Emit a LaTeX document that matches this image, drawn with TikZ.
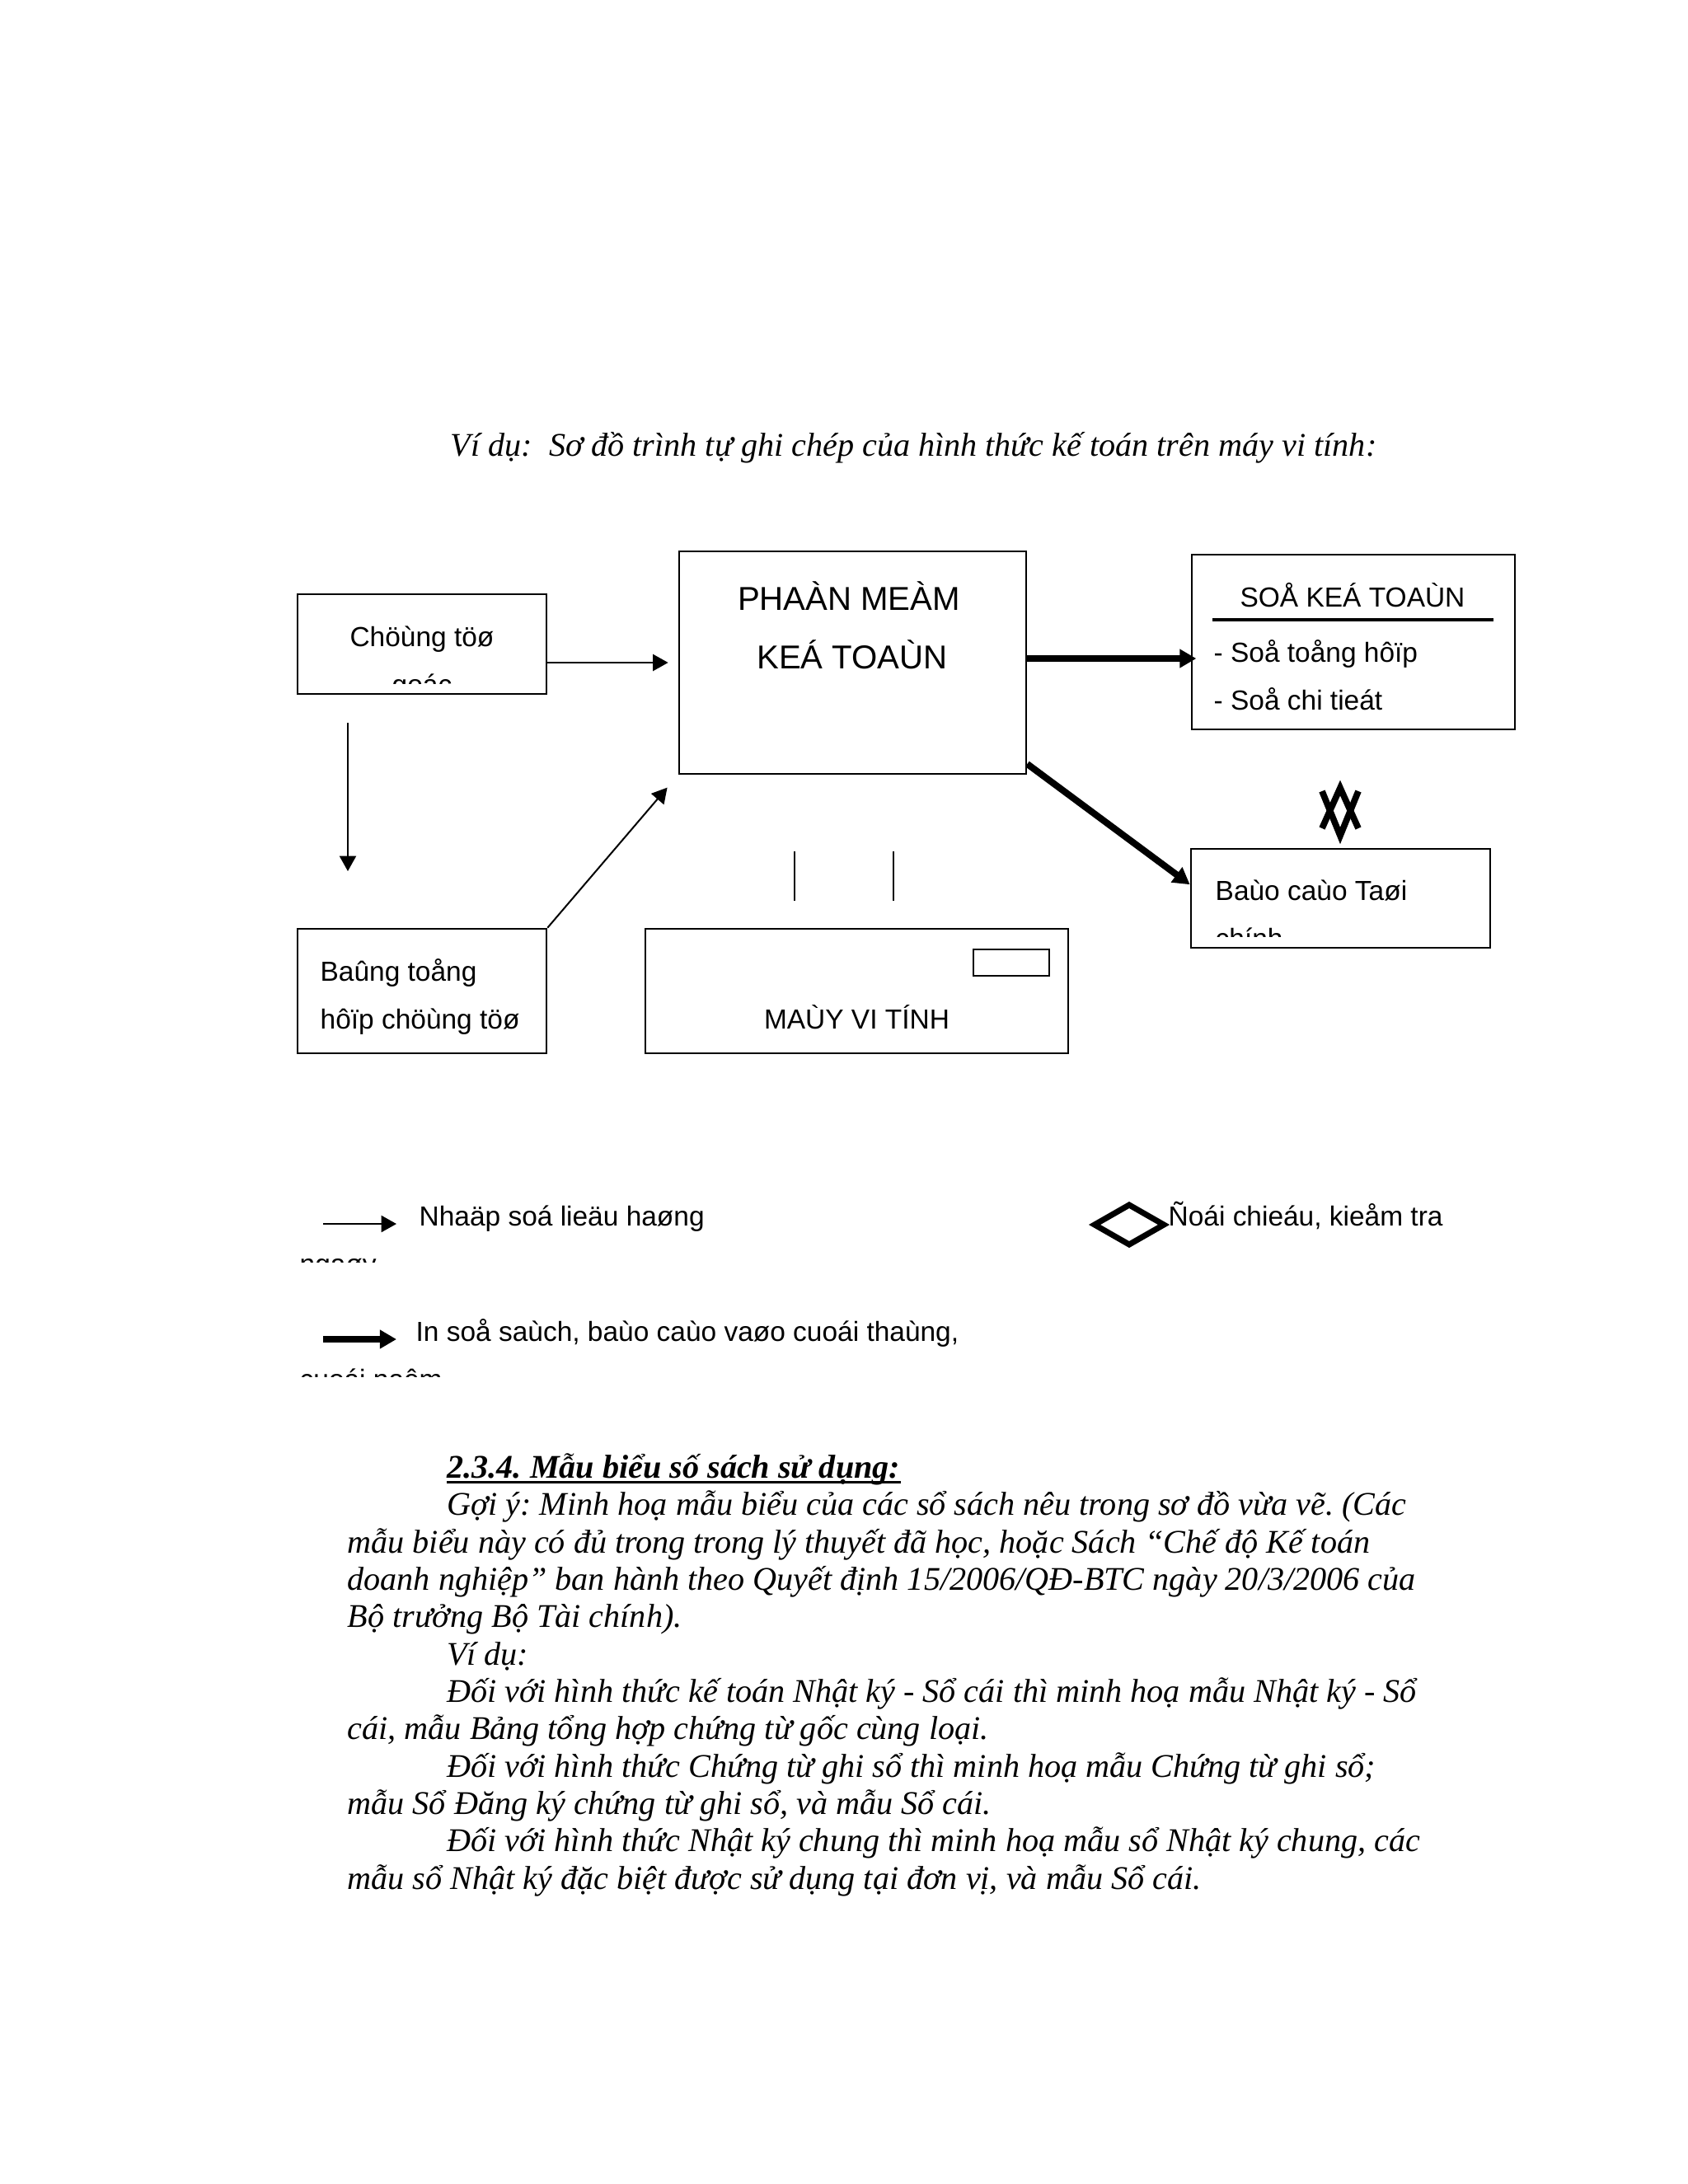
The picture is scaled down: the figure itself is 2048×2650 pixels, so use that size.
\documentclass[tikz,border=0pt]{standalone}
\usepackage{fontspec}
\newfontfamily\vnsans{Liberation Sans}
\newfontfamily\vnserif{Liberation Serif}
\usetikzlibrary{arrows.meta}
\frenchspacing

\tikzset{
  box/.style={draw, line width=0.8pt, inner sep=0pt},
  pxsize/.style 2 args={minimum width=#1*0.298828pt, minimum height=#2*0.298828pt},
  lbl/.style={font=\vnsans\fontsize{10}{12}\selectfont, inner sep=0pt},
  biglbl/.style={font=\vnsans\fontsize{12}{14}\selectfont, inner sep=0pt},
  arr/.style={-{Triangle[width=6pt,length=5.5pt]}, line width=0.6pt},
  thickarr/.style={-{Triangle[width=6.5pt,length=6pt]}, line width=2.4pt},
  para/.style={font=\vnserif\itshape\fontsize{12}{13.54}\selectfont, inner sep=0pt, anchor=base west},
}

\begin{document}
\begin{tikzpicture}[x=0.298828pt, y=-0.298828pt]
    \fill[white] (0,0) rectangle (2048,2650);
    \useasboundingbox (0,0) rectangle (2048,2650);

    % Title
    \node[para] (title) at (546,553)
        {Ví dụ:\ \ Sơ đồ trình tự ghi chép của hình thức kế toán trên máy vi tính:};

    % Boxes
    \node[box, pxsize={302}{121}] (goc) at (512,781.5) {};
    \node[box, pxsize={421}{270}] (phanmem) at (1034.5,804) {};
    \node[box, pxsize={392}{212}] (sokt) at (1642,779) {};
    \node[box, pxsize={363}{120}] (baocao) at (1626.5,1090) {};
    \node[box, pxsize={302}{151}] (bangth) at (512,1202.5) {};
    \node[box, pxsize={513}{151}] (mayvt) at (1039.5,1202.5) {};

    % Texts in the boxes
    \node[lbl, anchor=base] (goc1) at (512,784) {Chöùng töø};
    \begin{scope}
        \clip (361,700) rectangle (663,829);
        \node[lbl, anchor=base] (goc2) at (512,842) {goác};
    \end{scope}

    \node[biglbl, anchor=base] (pm1) at (1030,740) {PHAÀN MEÀM};
    \node[biglbl, anchor=base] (pm2) at (1034,811) {KEÁ TOAÙN};

    \node[lbl, anchor=base] (sokt0) at (1641,736) {SOÅ KEÁ TOAÙN};
    \draw[line width=1.3pt] (1471,752) -- (1812,752);
    \node[lbl, anchor=base west] (sokt1) at (1472,803) {- Soå toång hôïp};
    \node[lbl, anchor=base west] (sokt2) at (1472,861) {- Soå chi tieát};

    \node[lbl, anchor=base west] (bc1) at (1474,1092) {Baùo caùo Taøi};
    \begin{scope}
        \clip (1445,1100) rectangle (1808,1136);
        \node[lbl, anchor=base west] (bc2) at (1474,1150) {chính};
    \end{scope}

    \node[lbl, anchor=base west] (bth1) at (388,1190) {Baûng toång};
    \node[lbl, anchor=base west] (bth2) at (388,1248) {hôïp chöùng töø};

    \node[lbl, anchor=base] (mvt) at (1039.5,1248) {MAÙY VI TÍNH};
    \draw[line width=0.8pt] (1181,1152) rectangle (1273,1184);

    % Cables of the computer
    \draw[line width=0.7pt] (964,1033) -- (964,1093);
    \draw[line width=0.7pt] (1084,1033) -- (1084,1093);

    % Connectors
    \coordinate (v1) at (422,877);
    \coordinate (v2) at (422,1057);
    \draw[arr, shorten >=3.6pt] (goc.east |- phanmem.west) -- (phanmem.west);
    \draw[arr] (v1) -- (v2);
    \draw[arr, shorten >=6pt] (bangth.north east) -- (phanmem.south west);
    \draw[thickarr, shorten >=-2pt] (phanmem.east) ++(0,-5) -- (sokt.west |- 0,799);
    \draw[thickarr] ([yshift=4pt]phanmem.south east) -- ([yshift=5pt]baocao.west);

    % Check mark between the books and the reports
    \draw[line width=2.3pt] (1604,1005) -- (1626,956) -- (1648,1005);
    \draw[line width=2.3pt] (1604,960) -- (1626,1014) -- (1648,960);

    % Legend
    \coordinate (l1a) at (392,1485);
    \coordinate (l1b) at (481,1485);
    \draw[arr] (l1a) -- (l1b);
    \node[lbl, anchor=base west] (leg1) at (508,1487) {Nhaäp soá lieäu haøng};
    \begin{scope}
        \clip (340,1500) rectangle (700,1531);
        \node[lbl, anchor=base west] (leg1b) at (363,1545) {ngaøy};
    \end{scope}

    \coordinate (l2a) at (392,1625);
    \coordinate (l2b) at (481,1625);
    \draw[thickarr] (l2a) -- (l2b);
    \node[lbl, anchor=base west] (leg2) at (504,1627) {In soå saùch, baùo caùo vaøo cuoái thaùng,};
    \begin{scope}
        \clip (340,1640) rectangle (700,1670);
        \node[lbl, anchor=base west] (leg2b) at (363,1685) {cuoái naêm};
    \end{scope}

    \draw[line width=2.1pt, line join=miter] (1328,1486) -- (1370,1462) -- (1412,1486) -- (1370,1510) -- cycle;
    \node[lbl, anchor=base west] (leg3) at (1417,1487) {Ñoái chieáu, kieåm tra};

    % Section text (base of a many-line node is its last line)
    \node[para, font=\vnserif\bfseries\itshape\fontsize{12}{13.54}\selectfont] (muc) at (542,1793)
        {2.3.4. Mẫu biểu số sách sử dụng:};
    \draw[line width=0.8pt] ([yshift=-1.6pt]muc.base west) -- ([yshift=-1.6pt]muc.base east);
    \node[para, align=left] (goiy) at (421,2292) {%
        \hspace*{36pt}Gợi ý: Minh hoạ mẫu biểu của các sổ sách nêu trong sơ đồ vừa vẽ. (Các\\
        mẫu biểu này có đủ trong trong lý thuyết đã học, hoặc Sách “Chế độ Kế toán\\
        doanh nghiệp” ban hành theo Quyết định 15/2006/QĐ-BTC ngày 20/3/2006 của\\
        Bộ trưởng Bộ Tài chính).\\
        \hspace*{36pt}Ví dụ:\\
        \hspace*{36pt}Đối với hình thức kế toán Nhật ký - Sổ cái thì minh hoạ mẫu Nhật ký - Sổ\\
        cái, mẫu Bảng tổng hợp chứng từ gốc cùng loại.\\
        \hspace*{36pt}Đối với hình thức Chứng từ ghi sổ thì minh hoạ mẫu Chứng từ ghi sổ;\\
        mẫu Sổ Đăng ký chứng từ ghi sổ, và mẫu Sổ cái.\\
        \hspace*{36pt}Đối với hình thức Nhật ký chung thì minh hoạ mẫu sổ Nhật ký chung, các\\
        mẫu sổ Nhật ký đặc biệt được sử dụng tại đơn vị, và mẫu Sổ cái.};

\end{tikzpicture}
\end{document}
